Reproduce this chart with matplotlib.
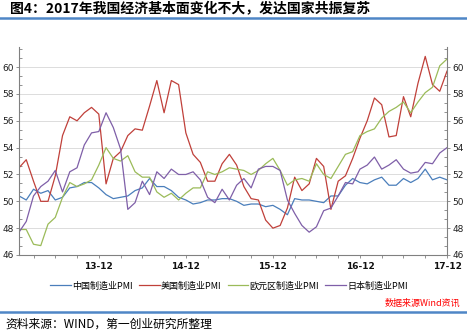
import numpy as np
import matplotlib
matplotlib.use('Agg')
import matplotlib.pyplot as plt
from matplotlib.lines import Line2D
from matplotlib.ticker import FixedLocator

plt.rcParams['font.family'] = ['Noto Sans CJK SC', 'DejaVu Sans']

# monthly PMI, 2013-01 .. 2017-12
china = [50.4, 50.1, 50.9, 50.6, 50.8, 50.1, 50.3, 51.0, 51.1, 51.4, 51.4, 51.0,
         50.5, 50.2, 50.3, 50.4, 50.8, 51.0, 51.7, 51.1, 51.1, 50.8, 50.3, 50.1,
         49.8, 49.9, 50.1, 50.1, 50.2, 50.2, 50.0, 49.7, 49.8, 49.8, 49.6, 49.7,
         49.4, 49.0, 50.2, 50.1, 50.1, 50.0, 49.9, 50.4, 50.4, 51.2, 51.7, 51.4,
         51.3, 51.6, 51.8, 51.2, 51.2, 51.7, 51.4, 51.7, 52.4, 51.6, 51.8, 51.6]
usa = [52.5, 53.1, 51.5, 50.0, 50.0, 51.9, 54.9, 56.3, 56.0, 56.6, 57.0, 56.5,
       51.3, 53.2, 53.7, 54.9, 55.4, 55.3, 57.1, 59.0, 56.6, 59.0, 58.7, 55.1,
       53.5, 52.9, 51.5, 51.5, 52.8, 53.5, 52.7, 51.1, 50.2, 50.1, 48.6, 48.0,
       48.2, 49.5, 51.8, 50.8, 51.3, 53.2, 52.6, 49.4, 51.5, 51.9, 53.2, 54.7,
       56.0, 57.7, 57.2, 54.8, 54.9, 57.8, 56.3, 58.8, 60.8, 58.7, 58.2, 59.7]
euro = [47.9, 47.9, 46.8, 46.7, 48.3, 48.8, 50.3, 51.4, 51.1, 51.3, 51.6, 52.7,
        54.0, 53.2, 53.0, 53.4, 52.2, 51.8, 51.8, 50.7, 50.3, 50.6, 50.1, 50.6,
        51.0, 51.0, 52.2, 52.0, 52.2, 52.5, 52.4, 52.3, 52.0, 52.3, 52.8, 53.2,
        52.3, 51.2, 51.6, 51.7, 51.5, 52.8, 52.0, 51.7, 52.6, 53.5, 53.7, 54.9,
        55.2, 55.4, 56.2, 56.7, 57.0, 57.4, 56.6, 57.4, 58.1, 58.5, 60.1, 60.6]
japan = [47.7, 48.5, 50.4, 51.1, 51.5, 52.3, 50.7, 52.2, 52.5, 54.2, 55.1, 55.2,
         56.6, 55.5, 53.9, 49.4, 49.9, 51.5, 50.5, 52.2, 51.7, 52.4, 52.0, 52.0,
         52.2, 51.6, 50.3, 49.9, 50.9, 50.1, 51.2, 51.7, 51.0, 52.4, 52.6, 52.6,
         52.3, 50.1, 49.1, 48.2, 47.7, 48.1, 49.3, 49.5, 50.4, 51.4, 51.3, 52.4,
         52.7, 53.3, 52.4, 52.7, 53.1, 52.4, 52.1, 52.2, 52.9, 52.8, 53.6, 54.0]

names = ['中国制造业PMI', '美国制造业PMI', '欧元区制造业PMI', '日本制造业PMI']
colors = ['#4a7ebb', '#c0403a', '#9bbb59', '#7f5fa8']
xlabels = ['13-12', '14-12', '15-12', '16-12', '17-12']
xlabel_pos = [11, 23, 35, 47, 59]

fig = plt.figure(figsize=(4.67, 3.33), dpi=100)
ax = fig.add_axes([19/467, 1-255/333, (447-19)/467, (255-47)/333])

x = np.arange(len(china))
for s, c, n in zip([china, usa, euro, japan], colors, names):
    ax.plot(x, s, color=c, lw=0.9, label=n)

ax.set_xlim(0, 59)
ax.set_ylim(46, 61.5)
ax.set_yticks(np.arange(46, 61, 2))
ax.yaxis.set_minor_locator(FixedLocator(46 + np.arange(0, 24) * 2 / 3))
ax.xaxis.set_major_locator(FixedLocator(xlabel_pos))
ax.set_xticklabels(xlabels, fontsize=6.5, fontweight='bold', family='DejaVu Sans',
                   color='#111111')
ax.xaxis.set_minor_locator(FixedLocator(np.arange(2, 59, 3)))
ax.grid(axis='y', color='#dcdcdc', lw=0.7)
ax.set_axisbelow(True)
ax.tick_params(axis='y', which='both', left=True, right=True, labelright=True,
               labelsize=6.5, labelcolor='#202020', color='#808080', width=0.6, pad=1.5)
ax.tick_params(axis='y', which='major', length=2.5, direction='out')
ax.tick_params(axis='y', which='minor', length=2, direction='in')
ax.tick_params(axis='x', which='both', length=2.2, width=0.6, color='#808080', pad=3)
for lab in ax.get_yticklabels():
    lab.set_family('DejaVu Sans')
ax.spines['top'].set_visible(False)
for sp in ['left', 'right', 'bottom']:
    ax.spines[sp].set_color('#808080')
    ax.spines[sp].set_linewidth(0.8)

fig.legend(loc='center', bbox_to_anchor=(229/467, 1-286/333), ncol=4, frameon=False,
           fontsize=6.5, handlelength=2.3, handletextpad=0.1, columnspacing=0.7)

fig.text(10/467, 1-9/333, '图4：2017年我国经济基本面变化不大，发达国家共振复苏',
         fontsize=10, fontweight='heavy', va='center', ha='left')
fig.add_artist(Line2D([0, 1], [1-18/333, 1-18/333], color='#4f86c6', lw=1.8))
fig.text(460/467, 1-303/333, '数据来源Wind资讯', color='#ff0000', fontsize=6.5,
         style='italic', ha='right', va='center')
fig.add_artist(Line2D([0, 1], [1-311.5/333, 1-311.5/333], color='#4f86c6', lw=1.8))
fig.text(5/467, 1-324/333, '资料来源：WIND，第一创业研究所整理', fontsize=8.5,
         ha='left', va='center')

fig.savefig('out.png', dpi=100)
